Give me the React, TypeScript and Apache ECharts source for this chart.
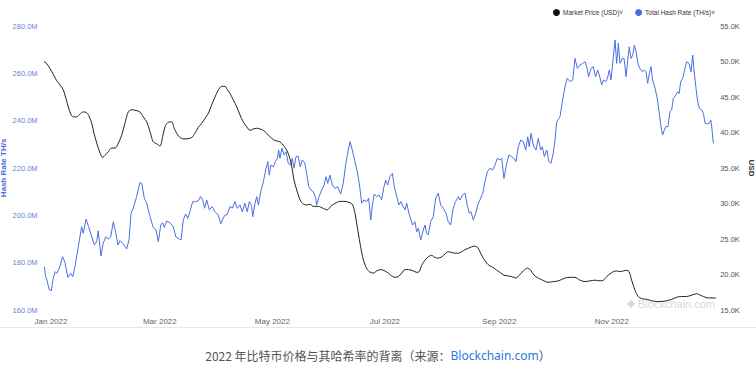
import React, { useEffect, useRef } from "react";
import * as echarts from "echarts";

// Day offsets are days since 2022-01-01
const hashDays = [
  -3.6, -2.9, -2.5, -0.9, 0.2, 1.2, 2.3, 3.1, 4.5, 6.3, 7.6, 9.1, 10.7, 11.8, 13.0, 14.8, 16.6, 17.5, 19.0, 20.4,
  22.1, 23.5, 24.8, 25.6, 27.1, 28.3, 29.8, 31.1, 32.4, 33.8, 35.1, 36.3, 37.4, 39.2, 41.0, 42.3, 43.4, 44.6, 46.4, 48.2,
  49.2, 50.6, 51.9, 53.7, 55.4, 56.9, 58.2, 59.5, 60.5, 61.4, 62.7, 64.5, 66.3, 67.6, 69.5, 70.5, 71.7, 73.0, 74.1, 75.3,
  76.8, 78.4, 79.8, 81.1, 82.2, 83.3, 84.4, 85.8, 87.3, 88.9, 90.7, 92.0, 93.1, 94.3, 95.6, 97.0, 98.3, 99.7, 101.0, 102.4,
  103.7, 105.1, 106.4, 107.5, 108.8, 109.3, 110.6, 111.5, 112.4, 113.7, 115.1, 116.4, 117.5, 118.3, 119.2, 120.5, 121.6, 122.7, 123.4, 124.1,
  125.2, 126.3, 127.4, 128.6, 129.9, 130.8, 131.7, 132.8, 134.0, 135.1, 136.2, 137.5, 138.6, 139.7, 140.9, 142.2, 143.5, 144.0, 145.3, 146.7,
  148.0, 149.1, 150.0, 151.2, 152.5, 153.9, 155.4, 157.0, 158.4, 159.7, 160.8, 162.1, 163.3, 164.8, 166.0, 167.1, 168.4, 169.6, 171.1, 172.2,
  173.3, 174.1, 175.2, 176.5, 177.8, 179.2, 180.5, 181.4, 182.5, 183.7, 185.0, 186.1, 187.4, 188.6, 189.7, 190.9, 191.9, 192.8, 194.0, 196.0,
  197.3, 198.2, 199.1, 200.4, 201.8, 202.7, 203.6, 204.5, 205.8, 207.2, 208.5, 209.9, 211.2, 212.6, 214.1, 215.3, 216.6, 218.0, 219.3, 220.8,
  221.7, 223.1, 224.4, 225.6, 226.7, 227.6, 228.9, 230.2, 231.3, 232.5, 234.0, 235.2, 236.5, 237.9, 239.4, 240.7, 241.9, 243.4, 244.3, 245.5,
  247.0, 248.2, 249.7, 250.9, 252.0, 253.3, 254.6, 256.0, 257.3, 258.4, 259.2, 260.2, 261.4, 262.9, 264.1, 265.4, 266.3, 267.4, 268.7, 269.9,
  271.0, 272.2, 273.2, 274.1, 275.3, 275.9, 277.3, 278.6, 279.8, 281.3, 282.8, 284.0, 285.3, 286.7, 288.2, 289.4, 290.4, 291.4, 292.7, 293.9,
  295.2, 296.3, 297.2, 298.5, 299.4, 300.7, 301.6, 302.6, 303.5, 304.8, 305.7, 306.6, 307.5, 308.4, 309.7, 310.6, 311.7, 312.6, 313.4, 314.4,
  315.3, 316.2, 317.1, 318.3, 319.2, 320.5, 321.6, 322.5, 323.4, 324.3, 325.2, 326.1, 327.4, 328.6, 329.7, 330.6, 331.5, 332.4, 333.3, 334.4,
  335.5, 336.4, 337.3, 338.6, 339.7, 340.5, 341.3, 342.4, 343.2, 344.5, 345.8, 346.9, 347.8, 348.5, 349.6, 350.5, 351.4, 352.7, 353.6, 354.5,
  355.7, 356.8, 357.6, 358.1, 359.0,
];
// Total hash rate, millions of TH/s
const hashRate = [
  178.3, 174.1, 173.5, 168.5, 168.2, 173.4, 176.2, 175.5, 177.6, 182.5, 180, 173.8, 175.5, 174.1, 178.3, 186.7, 195.2, 192.4, 198.4, 195.2,
  191, 187.5, 188.9, 193.5, 182.8, 188.2, 191, 189.9, 191, 197.3, 192.7, 187.5, 189.3, 187.9, 185.8, 189.6, 200.9, 203, 207.9, 213.8,
  213.5, 207.2, 205.1, 199.4, 194.9, 193.8, 188.9, 195.9, 196.9, 194.9, 197.6, 196.9, 195.2, 191, 190, 189.6, 198, 200.6, 198.7, 201.5,
  205.8, 205.8, 206.2, 207.9, 206.5, 203, 206.5, 202.3, 203.7, 201.5, 200.1, 196.5, 198.4, 200.1, 200.5, 203.7, 203, 205.8, 203, 204.4,
  201.5, 205.1, 201.5, 205.8, 203.7, 199.4, 205.1, 207.9, 204.4, 210, 214.2, 219.2, 222.7, 217, 221.3, 220.5, 222.7, 224.1, 227.6, 224.1,
  228.4, 225.5, 226.9, 222, 221.3, 224.1, 219.9, 224.8, 225, 220.5, 223.4, 222.2, 217.7, 212.1, 210.7, 210, 207.2, 204.4, 207.9, 210.7,
  212.8, 216.3, 213.5, 217, 212.8, 211.4, 212.1, 209, 213.5, 221.3, 226.2, 231.1, 227.6, 222.7, 218.4, 213.5, 205.1, 206.5, 205.8, 207.2,
  198, 203.7, 209, 207.9, 208.6, 206.5, 212.1, 214.9, 212.8, 216.3, 217.7, 212.1, 207.9, 204.4, 205.8, 203.7, 202.3, 205.1, 200.9, 195.9,
  197.3, 193.1, 194.5, 189.6, 193.8, 195.9, 192.4, 191.7, 197.3, 199.4, 207.2, 209.3, 204.4, 203, 200.9, 197.3, 195.9, 203, 205.8, 207.9,
  206.5, 208.6, 209.3, 204.4, 200.9, 201.5, 198, 200.9, 204.4, 206.5, 209.3, 214.2, 218.4, 219.9, 219.2, 221.3, 224.1, 223.4, 224.1, 215.6,
  222, 225.5, 224.8, 224.1, 222.7, 229, 231.8, 231.1, 227.6, 233.2, 229, 234.7, 229.7, 227.6, 232.5, 227.6, 229, 224.8, 227.6, 222.7,
  222, 226.2, 231.8, 239.6, 240.9, 241.7, 248.7, 254.3, 257.9, 256.5, 257.2, 266.3, 262.1, 263.5, 264.2, 264.9, 262.8, 258.6, 262.1, 262.8,
  258.6, 261.4, 259.3, 255.1, 257.2, 256.5, 257.9, 261.4, 257.2, 267, 274.1, 264.2, 272.7, 264.2, 266.3, 266.3, 258.6, 265.6, 271.2, 266.3,
  267.7, 271.9, 269.1, 263.5, 262.1, 260.7, 261.4, 260.7, 255.8, 260, 262.8, 257.2, 253.7, 249.4, 243.1, 237.5, 233.9, 236, 237.5, 237.5,
  243.8, 244.5, 249.4, 250.8, 252.2, 251.5, 256.5, 257.9, 260.7, 264.9, 264.2, 260.7, 267.7, 261.4, 253.7, 248, 245.2, 244.5, 243.1, 238.9,
  238.6, 238.9, 240.3, 237.5, 230.4,
];

const priceDays = [
  -3.8, -2.3, -0.5, 1.2, 3.1, 4.9, 6.7, 8.1, 9.4, 10.7, 12.1, 13.9, 15.7, 17.5, 19.3, 20.8, 22.1, 23.3, 24.8, 26.6,
  28.0, 29.3, 31.1, 32.9, 34.7, 36.5, 38.3, 40.1, 41.9, 43.7, 46.1, 48.2, 50.0, 51.9, 53.7, 55.4, 57.3, 59.1, 60.5, 61.8,
  63.3, 65.4, 66.8, 68.1, 69.9, 71.7, 73.6, 76.3, 78.0, 79.8, 81.7, 83.5, 85.3, 87.1, 88.9, 90.7, 92.5, 94.3, 95.2, 97.0,
  98.8, 100.7, 102.4, 104.2, 106.1, 107.9, 109.6, 111.5, 113.3, 115.1, 116.9, 118.7, 120.5, 122.3, 124.1, 125.9, 127.8, 129.2, 130.5, 131.7,
  133.2, 135.0, 136.7, 138.6, 140.4, 142.2, 144.9, 147.6, 149.8, 151.6, 153.9, 156.6, 159.3, 162.1, 163.5, 164.8, 166.0, 167.5, 168.9, 170.6,
  172.5, 174.7, 176.5, 178.7, 181.0, 182.8, 184.7, 186.4, 188.2, 190.1, 191.9, 193.7, 196.4, 198.2, 199.6, 200.9, 202.7, 204.5, 206.3, 208.1,
  209.9, 211.8, 213.6, 215.3, 217.2, 219.0, 220.8, 222.6, 224.4, 226.2, 228.0, 229.8, 231.3, 232.5, 234.3, 236.2, 237.9, 239.7, 241.6, 243.4,
  245.5, 247.9, 249.7, 252.0, 253.8, 256.0, 258.2, 260.0, 261.8, 264.1, 266.5, 269.5, 272.3, 275.0, 278.6, 281.3, 284.0, 286.7, 289.4, 292.1,
  294.9, 297.6, 299.4, 301.2, 303.0, 304.8, 306.6, 308.4, 310.2, 312.0, 313.3, 314.7, 316.5, 318.3, 320.2, 322.9, 325.6, 328.3, 331.0, 333.7,
  336.4, 339.2, 341.8, 344.5, 347.3, 350.0, 351.8, 353.6, 356.3, 359.0, 360.4,
];
// Market price, thousands of USD
const price = [
  50.0, 49.7, 49.0, 48.2, 47.3, 46.7, 46.0, 44.8, 43.6, 42.6, 42.2, 42.2, 42.6, 42.9, 42.8, 42.2, 41.3, 39.9, 38.5, 37.1,
  36.5, 36.8, 37.3, 37.8, 37.8, 38.5, 39.6, 41.3, 42.9, 43.2, 43.1, 42.9, 42.2, 41.5, 40.1, 38.7, 38.4, 38.1, 39.4, 40.8,
  41.4, 41.5, 40.6, 39.9, 39.3, 39.1, 39.1, 39.3, 39.9, 40.7, 41.3, 42.0, 42.7, 43.9, 45.0, 46.0, 46.5, 46.5, 46.2, 45.5,
  44.6, 43.6, 42.5, 41.5, 40.8, 40.3, 40.5, 40.6, 40.5, 40.3, 39.9, 39.4, 39.0, 38.8, 38.7, 38.2, 37.5, 36.6, 35.2, 33.3,
  31.9, 30.5, 29.9, 29.8, 29.9, 29.6, 29.6, 29.3, 29.1, 29.6, 30.0, 30.3, 30.3, 30.1, 29.8, 28.6, 26.7, 24.4, 22.5, 21.1,
  20.4, 20.2, 20.5, 20.7, 20.5, 20.2, 19.8, 19.6, 19.7, 20.2, 20.7, 20.7, 20.5, 20.3, 20.4, 21.3, 22.0, 22.5, 22.7, 22.4,
  22.3, 22.5, 22.9, 23.2, 23.1, 23.0, 23.0, 23.2, 23.5, 23.7, 23.9, 24.0, 23.8, 23.2, 22.3, 21.6, 21.2, 21.0, 20.6, 20.3,
  19.9, 19.8, 19.7, 19.5, 19.9, 20.5, 20.9, 20.6, 19.9, 19.5, 19.2, 18.9, 19.0, 19.1, 19.5, 19.6, 19.6, 19.2, 19.0, 19.1,
  19.2, 19.1, 19.2, 19.7, 20.1, 20.4, 20.5, 20.4, 20.5, 20.6, 20.4, 19.2, 17.8, 16.9, 16.6, 16.5, 16.3, 16.2, 16.2, 16.3,
  16.5, 16.8, 16.9, 16.9, 17.1, 17.3, 17.1, 16.9, 16.7, 16.7, 16.7,
];

const monthTicks = [0, 59, 120, 181, 243, 304];
const monthLabels = ["Jan 2022", "Mar 2022", "May 2022", "Jul 2022", "Sep 2022", "Nov 2022"];

const seriesNames = ["Market Price (USD)", "Total Hash Rate (TH/s)"];

export default function App() {
  const ref = useRef<HTMLDivElement>(null);

  useEffect(() => {
    document.body.style.margin = "0";
    if (!ref.current) return;
    const chart = echarts.init(ref.current, undefined, { renderer: "svg" });
    const font = "'Liberation Sans', Arial, sans-serif";
    chart.setOption({
      animation: false,
      textStyle: { fontFamily: font },
      title: {
        left: "center",
        top: 344,
        text: "{a|2022 年比特币价格与其哈希率的背离（来源：}{b|Blockchain.com}{a|）}",
        textStyle: {
          fontWeight: "normal",
          rich: {
            a: { fontSize: 12, fontWeight: "normal", color: "#555", fontFamily: "'Noto Sans CJK SC', sans-serif" },
            b: { fontSize: 12, fontWeight: "normal", color: "#2b7be0", fontFamily: "'Noto Sans', 'Noto Sans CJK SC', sans-serif" },
          },
        },
      },
      legend: {
        data: seriesNames,
        right: 36,
        top: 4,
        icon: "circle",
        itemWidth: 7,
        itemHeight: 7,
        itemGap: 12,
        textStyle: { fontSize: 6.5, color: "#333", fontFamily: font, padding: [0, 0, 0, -2] },
        formatter: (n: string) => n + "˅",
      },
      grid: { left: 43.6, right: 40.8, top: 26, bottom: 63, outerBoundsMode: "none" },
      xAxis: {
        type: "value",
        min: -4,
        max: 360,
        axisLine: { show: false },
        axisTick: { show: false },
        splitLine: { show: false },
        axisLabel: {
          customValues: monthTicks,
          fontSize: 8,
          color: "#666",
          margin: 7,
          formatter: (v: number) => {
            const i = monthTicks.indexOf(v);
            return i >= 0 ? monthLabels[i] : "";
          },
        },
      },
      yAxis: [
        {
          type: "value",
          position: "left",
          min: 160,
          max: 280,
          interval: 20,
          axisLine: { show: false },
          axisTick: { show: false },
          splitLine: { show: false },
          axisLabel: {
            fontSize: 7.5,
            color: "#6a7fd8",
            margin: 6,
            formatter: (v: number) => v.toFixed(1) + "M",
          },
          name: "Hash Rate TH/s",
          nameLocation: "middle",
          nameGap: 36,
          nameMoveOverlap: false,
          nameTextStyle: { fontSize: 8, fontWeight: "bold", color: "#4a6ee0" },
        },
        {
          type: "value",
          position: "right",
          min: 15,
          max: 55,
          interval: 5,
          axisLine: { show: false },
          axisTick: { show: false },
          splitLine: { show: false },
          axisLabel: {
            fontSize: 7.5,
            color: "#555",
            margin: 5,
            formatter: (v: number) => v.toFixed(1) + "K",
          },
          name: "USD",
          nameLocation: "middle",
          nameRotate: -90,
          nameGap: 32,
          nameMoveOverlap: false,
          nameTextStyle: { fontSize: 8, fontWeight: "bold", color: "#333" },
        },
      ],
      graphic: [
        {
          type: "line",
          shape: { x1: 0, y1: 327.5, x2: 756, y2: 327.5 },
          style: { stroke: "#e8e8e8", lineWidth: 1 },
          silent: true,
        },
        {
          type: "polygon",
          shape: { points: [[631, 300], [635, 304], [631, 308], [627, 304]] },
          style: { fill: "#d8d8d8" },
          silent: true,
        },
        {
          type: "text",
          left: 638,
          top: 298,
          style: { text: "Blockchain.com", fontSize: 11, fill: "#d8d8d8", fontFamily: font },
          silent: true,
        },
      ],
      series: [
        {
          name: seriesNames[0],
          type: "line",
          yAxisIndex: 1,
          showSymbol: false,
          smooth: 0.3,
          color: "#111",
          lineStyle: { width: 1, color: "#222" },
          data: priceDays.map((d, i) => [d, price[i]]),
          z: 3,
        },
        {
          name: seriesNames[1],
          type: "line",
          yAxisIndex: 0,
          showSymbol: false,
          color: "#4a6ee0",
          lineStyle: { width: 1, color: "#4a6ee0" },
          data: hashDays.map((d, i) => [d, hashRate[i]]),
          z: 2,
        },
      ],
    });
    return () => chart.dispose();
  }, []);

  return <div ref={ref} style={{ width: 756, height: 373 }} />;
}
